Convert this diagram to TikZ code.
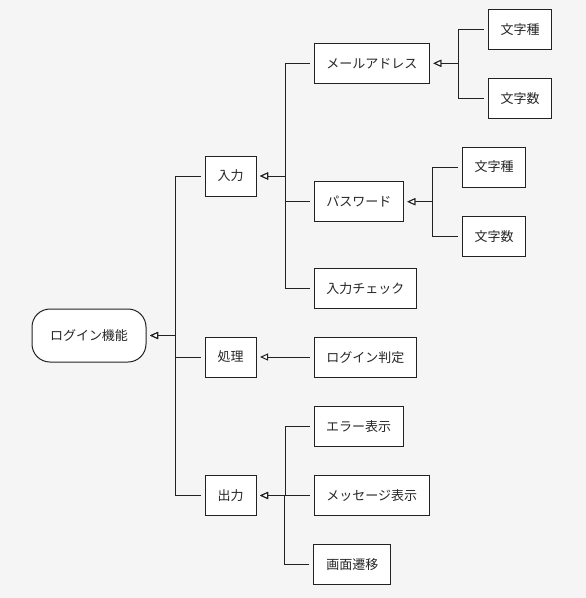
\documentclass[tikz,border=0pt]{standalone}
\usepackage{fontspec}
\setmainfont{Noto Sans CJK JP}
\usetikzlibrary{arrows.meta,calc}
\definecolor{bgc}{HTML}{F5F5F5}
\definecolor{lc}{HTML}{222222}
\begin{document}
\begin{tikzpicture}[x=1pt,y=-1pt,
  box/.style={draw=lc,line width=1pt,fill=white,minimum height=40pt,inner sep=0pt,
    font=\fontsize{13}{15}\selectfont,text=black!85},
  edge/.style={draw=lc,line width=1pt,shorten <=4pt,shorten >=3.5pt,
    -{Triangle[open,length=8pt,width=7pt,fill=white]}}]
\fill[bgc] (0,0) rectangle (586,598);
\useasboundingbox (0,0) rectangle (586,598);
\node[box,rounded corners=18pt,minimum width=114pt,minimum height=53pt] (root) at (89,335.5) {ログイン機能};
\node[box,minimum width=51pt] (in) at (230.5,176) {入力};
\node[box,minimum width=51pt] (proc) at (230.5,357) {処理};
\node[box,minimum width=51pt] (out) at (230.5,495.5) {出力};
\node[box,minimum width=115pt] (mail) at (371.8,63.3) {メールアドレス};
\node[box,minimum width=89pt] (pass) at (358.8,201.7) {パスワード};
\node[box,minimum width=102pt] (chk) at (365.3,288.3) {入力チェック};
\node[box,minimum width=102pt] (judge) at (365.3,357.3) {ログイン判定};
\node[box,minimum width=89pt] (err) at (358.7,426.3) {エラー表示};
\node[box,minimum width=115pt] (msg) at (371.7,495.5) {メッセージ表示};
\node[box,minimum width=76.7pt] (scr) at (352.3,564.3) {画面遷移};
\node[box,minimum width=63.7pt] (m1) at (520,29.2) {文字種};
\node[box,minimum width=63.7pt] (m2) at (520,98.3) {文字数};
\node[box,minimum width=63.7pt] (p1) at (494,167) {文字種};
\node[box,minimum width=63.7pt] (p2) at (494,236.3) {文字数};
\foreach \c/\p in {in/root,proc/root,out/root,mail/in,pass/in,chk/in,judge/proc,err/out,msg/out,scr/out,m1/mail,m2/mail,p1/pass,p2/pass}{
  \draw[edge] (\c.west) -| ($(\p.east)!.5!(\c.west)$) |- (\p.east);
}
\end{tikzpicture}
\end{document}
